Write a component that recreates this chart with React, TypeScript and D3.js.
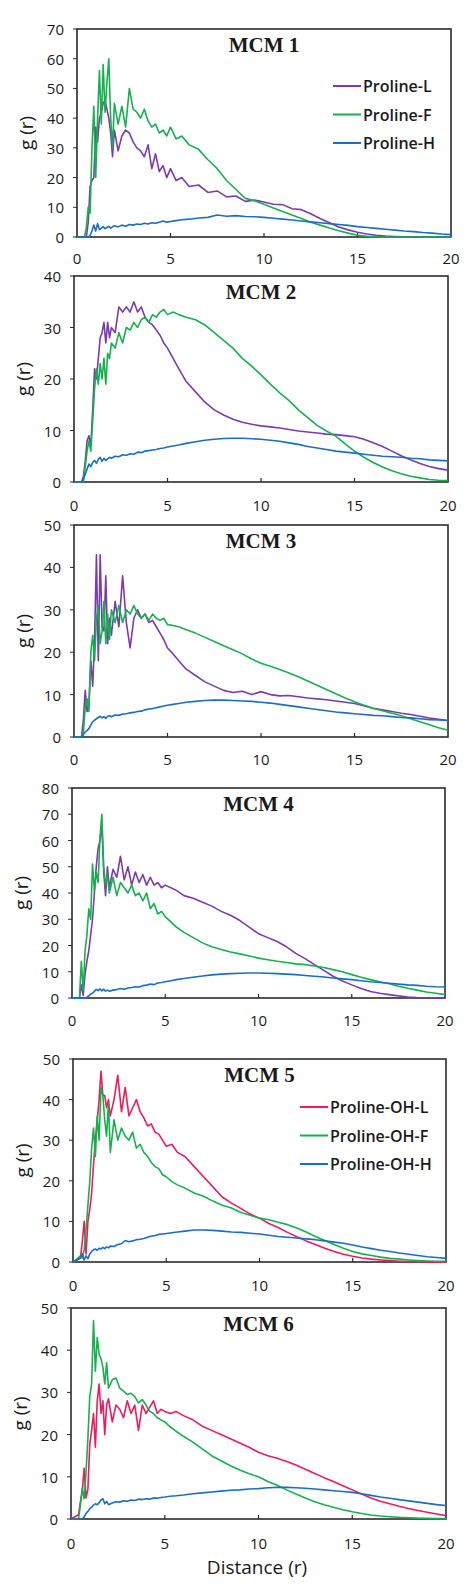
import React from "react";
import * as d3 from "d3";

// shared distance grid (r) for every curve
const distance = [
  0, 0.4, 0.5, 0.6, 0.7, 0.8, 0.9, 1.0, 1.1, 1.2, 1.3, 1.4, 1.5, 1.6, 1.7, 1.8, 1.9, 2.0,
  2.2, 2.4, 2.6, 2.8, 3.0, 3.2, 3.4, 3.6, 3.8, 4.0, 4.2, 4.4, 4.6, 4.8, 5.0,
  5.3, 5.6, 6.0,
  6.5, 7, 7.5, 8, 8.5, 9, 9.5, 10, 10.5, 11, 11.5, 12, 12.5, 13, 13.5, 14, 14.5, 15,
  15.5, 16, 16.5, 17, 17.5, 18, 18.5, 19, 19.5, 20,
];

// MCM 1
const mcm1L = [
  0, 0, 0, 5, 17, 19, 20, 37, 32, 40, 42, 45, 46, 43, 40, 35, 27, 36,
  29, 34, 36, 35, 32, 30, 29, 27, 31, 23, 28, 22, 24, 20, 23,
  19, 20, 17,
  17.5, 15, 15.5, 13.5, 13.8, 12, 12.4, 11.8, 11, 10.9, 9.5, 9.2, 7.8, 6.2, 4.8, 3.4, 2.4, 1.6,
  1, 0.6, 0.3, 0.15, 0.05, 0, 0, 0, 0, 0,
];
const mcm1F = [
  0, 0, 3, 10, 8, 30, 44, 20, 40, 56, 38, 58, 42, 52, 60, 40, 30, 45,
  38, 44, 37, 50, 43, 42, 40, 43, 39, 37, 38, 35, 36, 34, 37,
  33, 34, 31,
  29.5, 26, 23, 19, 16, 13, 12.2, 11, 9.8, 8.6, 7.4, 6.2, 5, 4, 3, 2.1, 1.3, 0.6,
  0.2, 0.05, 0, 0, 0, 0, 0, 0, 0, 0,
];
const mcm1H = [
  0, 0, 0, 0, 0.5, 2, 4, 2, 4.5, 2.5, 3, 3.5, 2.8, 3.2, 3.6, 3, 3.4, 3.8,
  3.4, 4, 3.6, 4.2, 4, 4.4, 4.2, 4.6, 4.4, 4.8, 4.6, 5, 5.4, 5, 5.2,
  5.5, 5.8, 6,
  6.4, 6.6, 7.4, 7, 7.2, 6.9, 6.8, 6.6, 6.3, 6, 5.7, 5.4, 5.1, 4.8, 4.5, 4.2, 3.9, 3.5,
  3.2, 2.9, 2.6, 2.3, 2, 1.8, 1.5, 1.3, 1, 0.8,
];

// MCM 2
const mcm2L = [
  0, 0, 1, 4, 8, 9, 7, 14, 22, 20, 24, 28, 29, 31, 27, 31, 28, 30,
  29, 34, 33, 34, 33, 35, 33, 34, 32, 31, 30.5, 29.5, 28.5, 27, 26,
  24, 22, 19.5,
  17.5, 15.5, 14, 13, 12.2, 11.6, 11.2, 10.9, 10.7, 10.5, 10.2, 9.9, 9.7, 9.5, 9.3, 9.2, 9, 8.8,
  8.3, 7.6, 6.9, 6, 5.1, 4.3, 3.6, 3, 2.6, 2.3,
];
const mcm2F = [
  0, 0, 0, 3, 6, 8, 6, 12, 18, 22, 19, 23, 20, 24, 19, 25, 24, 27,
  26, 29, 27, 30, 29.5, 31, 30, 31.5, 32, 31, 32.5, 32, 33, 33.5, 32.5,
  33, 32.5, 32,
  31.5, 30.5, 29, 27.5, 26, 24, 22.5, 20.8, 19, 17.3, 15.8, 14, 12.5, 11, 9.9, 8.9, 7.4, 6,
  4.8, 3.8, 2.9, 2.2, 1.6, 1.1, 0.8, 0.5, 0.35, 0.3,
];
const mcm2H = [
  0, 0, 0.5, 1.5, 2.5, 3.5, 3, 3.8, 4.2, 3.6, 4.4, 4.8, 4, 4.6, 4.2, 4.5, 4.8, 4.6,
  5, 4.9, 5.3, 5.2, 5.5, 5.4, 5.8, 5.7, 6, 6.1, 6.2, 6.3, 6.5, 6.6, 6.8,
  7, 7.2, 7.5,
  7.8, 8.1, 8.3, 8.45, 8.5, 8.5, 8.4, 8.3, 8.1, 7.9, 7.6, 7.3, 6.9, 6.6, 6.3, 6, 5.8, 5.6,
  5.4, 5.2, 5, 4.9, 4.8, 4.6, 4.5, 4.3, 4.2, 4.1,
];

// MCM 3
const mcm3L = [
  0, 0, 4, 11, 6, 8, 18, 12, 23, 43, 18, 43, 26, 25, 38, 22, 28, 24,
  32, 26, 38, 27, 21, 28, 30, 28, 29, 27, 27.5, 26, 24.5, 23, 21,
  19.6, 18, 16,
  14.5, 13, 12, 11, 10.5, 10.8, 10, 10.7, 10, 9.7, 9.8, 9.5, 9.2, 9, 8.8, 8.5, 8.2, 7.9,
  7.4, 6.8, 6.4, 6, 5.6, 5.3, 4.9, 4.5, 4.2, 3.9,
];
const mcm3F = [
  0, 0, 1, 7, 9, 6, 20, 24, 18, 28, 31, 22, 25, 32, 22, 29, 23, 30,
  27, 31, 27, 30, 29, 31, 29, 28, 29, 27.5, 29, 28, 27.5, 28, 26.5,
  26.3, 26, 25.3,
  24.5, 23.5, 22.5, 21.5, 20.6, 19.6, 18.4, 17.4, 16.7, 15.9, 15.1, 14.2, 13.2, 12.2, 11.2, 10.2, 9.2, 8.3,
  7.5, 6.7, 6.2, 5.6, 5, 4.3, 3.6, 2.9, 2.2, 1.6,
];
const mcm3H = [
  0, 0, 0.5, 1.2, 1.5, 2, 2.8, 3.6, 4, 4.3, 4.6, 4.9, 4.5, 4.8, 4.4, 4.9, 5, 4.8,
  5.2, 5.1, 5.4, 5.5, 5.7, 5.8, 6, 6.1, 6.4, 6.6, 6.7, 6.9, 7.1, 7.3, 7.5,
  7.7, 7.9, 8.2,
  8.4, 8.6, 8.7, 8.7, 8.6, 8.5, 8.4, 8.2, 8, 7.7, 7.4, 7.1, 6.8, 6.5, 6.2, 5.9, 5.7, 5.5,
  5.3, 5.1, 5, 4.8, 4.6, 4.5, 4.3, 4.1, 4, 3.9,
];

// MCM 4
const mcm4L = [
  0, 0, 5, 1, 9, 14, 18, 24, 30, 40, 50, 57, 60, 66, 48, 39, 50, 42,
  49, 46, 54, 45, 50, 43, 48, 44, 47, 43, 46, 43, 44, 42, 43,
  42, 41, 39,
  38, 36.5, 35, 33, 31.5, 29.5, 27, 24.5, 23, 21.5, 19.5, 17, 15, 12.7, 10.5, 8.3, 6.5, 5,
  3.6, 2.5, 1.8, 1.3, 0.8, 0.4, 0.2, 0.1, 0, 0,
];
const mcm4F = [
  0, 0, 14, 3, 18, 24, 34, 30, 51, 41, 48, 44, 61, 70, 50, 43, 47, 40,
  46, 39, 44, 42, 40, 43, 39, 40, 37, 40, 34, 36, 32, 33, 31,
  29, 27, 25,
  23, 21, 19.5, 18.5, 17.5, 16.8, 16, 15.2, 14.6, 14, 13.5, 13, 12.7, 12.2, 11.6, 10.8, 10, 8.9,
  7.9, 7, 6.2, 5.4, 4.5, 3.7, 3, 2.3, 1.8, 1.3,
];
const mcm4H = [
  0, 0, 0, 0, 0, 0.3, 0.8, 1.5, 1.8, 2.5, 3.3, 2.8, 3.5, 2.7, 3.4, 2.6, 3, 2.6,
  3, 3.2, 3.6, 3.3, 3.8, 4, 4.3, 4.2, 4.7, 4.9, 5.3, 5.1, 5.7, 5.9, 6.2,
  6.6, 7, 7.4,
  7.9, 8.4, 8.8, 9.1, 9.3, 9.4, 9.5, 9.5, 9.4, 9.3, 9.1, 8.9, 8.6, 8.3, 8, 7.6, 7.3, 7,
  6.6, 6.2, 5.9, 5.6, 5.3, 5, 4.8, 4.5, 4.3, 4.2,
];

// MCM 5
const mcm5L = [
  0, 1, 5, 10, 2, 10, 13, 17, 24, 30, 35, 40, 47, 41, 41, 38, 40, 36,
  40, 46, 37, 43, 36, 38, 40, 37, 35.5, 33.5, 34, 32, 31.5, 30, 28.5,
  29, 27, 26,
  23.5, 21, 18.5, 16, 14.5, 13.2, 11.8, 10.8, 9.5, 8.5, 7.3, 6.2, 5.2, 4.3, 3.4, 2.6, 1.9, 1.4,
  1, 0.7, 0.5, 0.35, 0.2, 0.1, 0.05, 0, 0, 0,
];
const mcm5F = [
  0, 1.5, 1, 3, 8, 14, 20, 28, 33, 26, 36, 30, 43, 41, 35, 31, 39, 27,
  35, 30, 33, 31, 30, 32, 28, 29, 27, 26, 24.5, 23.5, 23, 21.5, 21,
  19.8, 19, 18.2,
  17, 16.2, 15, 14, 13.3, 12.2, 11.5, 10.8, 10.4, 9.8, 9.2, 8.4, 7.4, 6.3, 5.3, 4.3, 3.4, 2.6,
  2, 1.6, 1.2, 0.9, 0.7, 0.5, 0.35, 0.25, 0.2, 0.15,
];
const mcm5H = [
  0, 1, 2, 0.5, 1.5, 0.8, 2, 2.6, 3, 3.2, 2.9, 3.4, 3.2, 3.6, 3.3, 3.7, 3.5, 3.9,
  3.8, 4.3, 4.5, 5.3, 5, 5.2, 5.5, 5.6, 5.8, 6.1, 6.4, 6.5, 6.8, 6.9, 7,
  7.2, 7.4, 7.6,
  7.9, 7.9, 7.8, 7.6, 7.4, 7.3, 7.1, 6.9, 6.6, 6.3, 6.1, 5.9, 5.7, 5.5, 5.2, 4.9, 4.6, 4.2,
  3.7, 3.3, 2.9, 2.6, 2.2, 1.9, 1.6, 1.3, 1.1, 0.9,
];

// MCM 6
const mcm6L = [
  0, 1, 4, 6.5, 12, 5, 7, 17.6, 21, 25, 17, 28, 32, 25, 28, 20, 27, 28.5,
  23, 27, 26, 24, 28, 25, 27, 21, 27, 25, 26.5, 28, 25, 26, 25.5,
  25, 25.5, 24.5,
  23.5, 22, 21, 20, 19, 18, 17, 15.8, 15, 14.4, 13.6, 12.8, 11.8, 10.8, 9.8, 8.9, 7.9, 6.9,
  5.9, 5, 4.2, 3.6, 3, 2.5, 2, 1.6, 1.2, 0.8,
];
const mcm6F = [
  0, 0, 3.3, 7.3, 4.8, 11, 19, 29, 32, 47, 35, 43, 39, 38, 36, 32, 37, 31,
  33, 33.4, 31, 30.3, 29.5, 29.8, 29, 27.5, 28.3, 27, 25.5, 25, 24, 23.5, 23,
  21.8, 20.8, 19.6,
  18.2, 16.6, 15, 13.8, 12.6, 11.6, 10.7, 10, 8.9, 8, 6.9, 5.9, 5, 4.1, 3.4, 2.8, 2.2, 1.7,
  1.3, 0.95, 0.7, 0.55, 0.4, 0.3, 0.2, 0.15, 0.1, 0.1,
];
const mcm6H = [
  0, 0, 0, 0, 0.5, 1.3, 1.8, 2.4, 2.8, 3.3, 3.6, 3.4, 3.8, 4.5, 4.8, 3.6, 4.2, 3.4,
  3.8, 4.1, 4, 4.3, 4.2, 4.5, 4.4, 4.7, 4.6, 4.8, 4.7, 5, 4.9, 5.1, 5.2,
  5.4, 5.5, 5.7,
  6, 6.2, 6.4, 6.6, 6.8, 6.9, 7.1, 7.2, 7.4, 7.5, 7.5, 7.4, 7.3, 7.1, 6.9, 6.7, 6.5, 6.3,
  6, 5.6, 5.2, 4.9, 4.6, 4.3, 4, 3.7, 3.4, 3.2,
];

const titles = ["MCM 1", "MCM 2", "MCM 3", "MCM 4", "MCM 5", "MCM 6"];
const xTicks = [0, 5, 10, 15, 20];
const yTicks40 = [0, 10, 20, 30, 40];
const yTicks50 = [0, 10, 20, 30, 40, 50];
const yTicks70 = [0, 10, 20, 30, 40, 50, 60, 70];
const yTicks80 = [0, 10, 20, 30, 40, 50, 60, 70, 80];
const legendProline = ["Proline-L", "Proline-F", "Proline-H"];
const legendProlineOH = ["Proline-OH-L", "Proline-OH-F", "Proline-OH-H"];

const PURPLE = "#7b3bae";
const GREEN = "#17b04f";
const BLUE = "#1c6dc4";
const PINK = "#f01a5e";

const panels = [
  { title: titles[0], yTicks: yTicks70, series: [mcm1L, mcm1F, mcm1H], colors: [PURPLE, GREEN, BLUE], legend: legendProline },
  { title: titles[1], yTicks: yTicks40, series: [mcm2L, mcm2F, mcm2H], colors: [PURPLE, GREEN, BLUE], legend: null },
  { title: titles[2], yTicks: yTicks50, series: [mcm3L, mcm3F, mcm3H], colors: [PURPLE, GREEN, BLUE], legend: null },
  { title: titles[3], yTicks: yTicks80, series: [mcm4L, mcm4F, mcm4H], colors: [PURPLE, GREEN, BLUE], legend: null },
  { title: titles[4], yTicks: yTicks50, series: [mcm5L, mcm5F, mcm5H], colors: [PINK, GREEN, BLUE], legend: legendProlineOH },
  { title: titles[5], yTicks: yTicks50, series: [mcm6L, mcm6F, mcm6H], colors: [PINK, GREEN, BLUE], legend: null },
];

// plot boxes (the original is a stack of separate images, so they drift a bit)
const boxes = [
  { left: 77, right: 451, top: 29, bottom: 237, labelY: 258, legendX: 333, legendY: 57 },
  { left: 74, right: 448, top: 276, bottom: 482, labelY: 505 },
  { left: 74, right: 448, top: 525, bottom: 737, labelY: 759 },
  { left: 72, right: 445, top: 788, bottom: 998, labelY: 1020 },
  { left: 73, right: 446, top: 1059, bottom: 1262, labelY: 1285, legendX: 300, legendY: 48 },
  { left: 71, right: 446, top: 1308, bottom: 1519, labelY: 1543 },
];

const SANS = "'Open Sans', 'Liberation Sans', sans-serif";

function Panel({ p, box }) {
  const x = d3.scaleLinear().domain([0, 20]).range([box.left, box.right]);
  const yMax = p.yTicks[p.yTicks.length - 1];
  const y = d3.scaleLinear().domain([0, yMax]).range([box.bottom, box.top]);
  const line = d3
    .line<number>()
    .x((_, i) => x(distance[i]))
    .y((d) => y(d));
  const midY = (box.top + box.bottom) / 2;

  return (
    <g>
      <rect
        x={box.left}
        y={box.top}
        width={box.right - box.left}
        height={box.bottom - box.top}
        fill="#fff"
        stroke="#2b2b2b"
        strokeWidth={1.6}
      />
      {p.yTicks.map((t) => (
        <g key={"y" + t}>
          <line x1={box.left - 4} x2={box.left} y1={y(t)} y2={y(t)} stroke="#2b2b2b" strokeWidth={1} />
          <text
            x={box.left - 13}
            y={y(t)}
            textAnchor="end"
            dominantBaseline="central"
            fontSize={15}
            fill="#1a1a1a"
          >
            {t}
          </text>
        </g>
      ))}
      {xTicks.map((t) => (
        <g key={"x" + t}>
          {t > 0 && t < 20 && (
            <line x1={x(t)} x2={x(t)} y1={box.bottom} y2={box.bottom - 4} stroke="#2b2b2b" strokeWidth={1.2} />
          )}
          <text x={x(t)} y={box.labelY} textAnchor="middle" dominantBaseline="central" fontSize={15} fill="#1a1a1a">
            {t}
          </text>
        </g>
      ))}
      {p.series.map((s, i) => (
        <path
          key={i}
          d={line(s) || ""}
          fill="none"
          stroke={p.colors[i]}
          strokeWidth={1.6}
          strokeLinejoin="round"
        />
      ))}
      <text
        x={(box.left + box.right) / 2}
        y={box.top + 23}
        textAnchor="middle"
        fontFamily="'Liberation Serif', 'Times New Roman', serif"
        fontWeight="bold"
        fontSize={21}
        fill="#1a1a1a"
      >
        {p.title}
      </text>
      <text
        transform={`translate(${box.left - 51},${midY}) rotate(-90)`}
        textAnchor="middle"
        dominantBaseline="central"
        fontSize={19}
        fill="#1a1a1a"
      >
        g (r)
      </text>
      {p.legend &&
        p.legend.map((name, i) => {
          const ly = box.top + box.legendY + i * 28.5;
          return (
            <g key={name}>
              <line x1={box.legendX} x2={box.legendX + 28} y1={ly} y2={ly} stroke={p.colors[i]} strokeWidth={2} />
              <text
                x={box.legendX + 30}
                y={ly}
                dominantBaseline="central"
                fontSize={16}
                fontWeight={600}
                fill="#1a1a1a"
              >
                {name}
              </text>
            </g>
          );
        })}
    </g>
  );
}

export default function App() {
  return (
    <svg
      width={474}
      height={1594}
      style={{ position: "absolute", left: 0, top: 0, display: "block", background: "#fff" }}
      fontFamily={SANS}
    >
      <rect width={474} height={1594} fill="#fff" />
      {panels.map((p, i) => (
        <Panel key={p.title} p={p} box={boxes[i]} />
      ))}
      <text x={257} y={1567} textAnchor="middle" dominantBaseline="central" fontSize={19} fill="#1a1a1a">
        Distance (r)
      </text>
    </svg>
  );
}
